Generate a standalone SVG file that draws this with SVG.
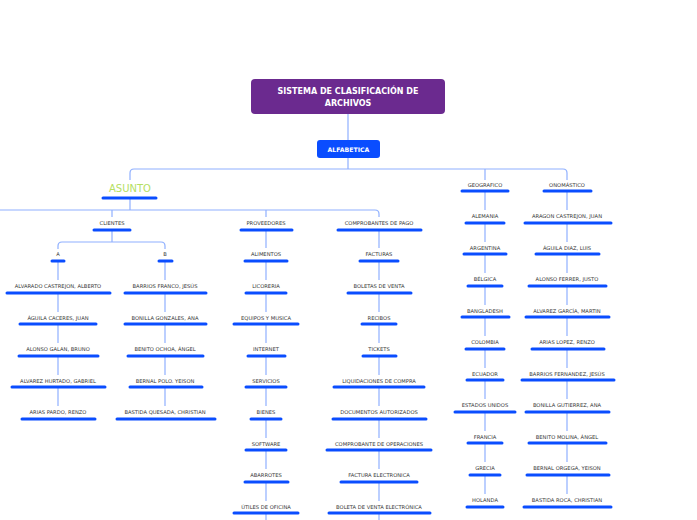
<svg xmlns="http://www.w3.org/2000/svg" width="697" height="520" viewBox="0 0 697 520">
<style>
text{font-family:"DejaVu Sans","Liberation Sans",sans-serif;font-size:5.2px;fill:#333;text-anchor:middle}
.b{stroke:#0a4dff;stroke-width:3;stroke-linecap:round}
.c{stroke:#8fb0ff;stroke-width:1.2;fill:none}
</style>
<rect width="697" height="520" fill="#fff"/>
<g id="connectors" class="c">
<path d="M348,114V140M348,158V169M130,180V173Q130,169 134,169H563Q567,169 567,173V180M485,169V180M130,199V210M0,210H375Q379,210 379,214V217M112,210V217M266,210V217M112,231V242M62,242H161Q165,242 165,246V249M62,242Q58,242 58,246V249"/>
<path d="M58,262V280M58,294V312M58,325V343M58,357V375M58,388V406M165,262V280M165,294V312M165,325V343M165,357V375M165,388V406"/>
<path d="M266,231V248M266,262V280M266,294V312M266,325V343M266,357V375M266,388V406M266,420V438M266,451V469M266,483V501M266,514V520M379,231V248M379,262V280M379,294V312M379,325V343M379,357V375M379,388V406M379,420V438M379,451V469M379,483V501M379,514V520"/>
<path d="M485,192V210M485,224V242M485,255V273M485,287V305M485,318V336M485,350V368M485,381V399M485,413V431M485,444V462M485,476V494M567,192V210M567,224V242M567,255V273M567,287V305M567,318V336M567,350V368M567,381V399M567,413V431M567,444V462M567,476V494"/>
</g>
<g id="root"><rect x="251" y="79" width="194" height="35" rx="4" fill="#6b2a8f"/><text x="348" y="94" style="font-size:8px;font-weight:bold;fill:#fff">SISTEMA DE CLASIFICACIÓN DE</text><text x="348" y="106" style="font-size:8px;font-weight:bold;fill:#fff">ARCHIVOS</text></g>
<g id="alfabetica"><rect x="317" y="140" width="63" height="18" rx="3" fill="#0a4dff"/><text x="348.5" y="151.5" style="font-size:6.2px;font-weight:bold;fill:#fff">ALFABETICA</text></g>
<g id="asunto"><text x="130" y="192" style="font-size:10px;fill:#b5e061">ASUNTO</text><line class="b" x1="103" y1="198" x2="156" y2="198"/></g>
<g id="clientes">
<text x="112" y="225">CLIENTES</text><line class="b" x1="94" y1="230" x2="130" y2="230"/>
<text x="58" y="256">A</text><line class="b" x1="52" y1="261" x2="64" y2="261"/>
<text x="165" y="256">B</text><line class="b" x1="159" y1="261" x2="172" y2="261"/>
<text x="58" y="288">ALVARADO CASTREJON, ALBERTO</text><line class="b" x1="7" y1="293" x2="110" y2="293"/>
<text x="58" y="320">ÁGUILA CACERES, JUAN</text><line class="b" x1="20" y1="324" x2="96" y2="324"/>
<text x="58" y="351">ALONSO GALAN, BRUNO</text><line class="b" x1="19" y1="356" x2="98" y2="356"/>
<text x="58" y="383">ALVAREZ HURTADO, GABRIEL</text><line class="b" x1="12" y1="387" x2="105" y2="387"/>
<text x="58" y="414">ARIAS PARDO, RENZO</text><line class="b" x1="22" y1="419" x2="95" y2="419"/>
<text x="165" y="288">BARRIOS FRANCO, JESÚS</text><line class="b" x1="125" y1="293" x2="206" y2="293"/>
<text x="165" y="320">BONILLA GONZALES, ANA</text><line class="b" x1="125" y1="324" x2="206" y2="324"/>
<text x="165" y="351">BENITO OCHOA, ÁNGEL</text><line class="b" x1="128" y1="356" x2="203" y2="356"/>
<text x="165" y="383">BERNAL POLO. YEISON</text><line class="b" x1="130" y1="387" x2="202" y2="387"/>
<text x="165" y="414">BASTIDA QUESADA, CHRISTIAN</text><line class="b" x1="117" y1="419" x2="215" y2="419"/>
</g>
<g id="proveedores">
<text x="266" y="225">PROVEEDORES</text><line class="b" x1="241" y1="230" x2="292" y2="230"/>
<text x="266" y="256">ALIMENTOS</text><line class="b" x1="245" y1="261" x2="287" y2="261"/>
<text x="266" y="288">LICORERIA</text><line class="b" x1="246" y1="293" x2="286" y2="293"/>
<text x="266" y="320">EQUIPOS Y MUSICA</text><line class="b" x1="234" y1="324" x2="298" y2="324"/>
<text x="266" y="351">INTERNET</text><line class="b" x1="248" y1="356" x2="285" y2="356"/>
<text x="266" y="383">SERVICIOS</text><line class="b" x1="246" y1="387" x2="286" y2="387"/>
<text x="266" y="414">BIENES</text><line class="b" x1="251" y1="419" x2="281" y2="419"/>
<text x="266" y="446">SOFTWARE</text><line class="b" x1="246" y1="450" x2="286" y2="450"/>
<text x="266" y="477">ABARROTES</text><line class="b" x1="245" y1="482" x2="288" y2="482"/>
<text x="266" y="509">ÚTILES DE OFICINA</text><line class="b" x1="234" y1="513" x2="298" y2="513"/>
</g>
<g id="comprobantes">
<text x="379" y="225">COMPROBANTES DE PAGO</text><line class="b" x1="338" y1="230" x2="421" y2="230"/>
<text x="379" y="256">FACTURAS</text><line class="b" x1="360" y1="261" x2="398" y2="261"/>
<text x="379" y="288">BOLETAS DE VENTA</text><line class="b" x1="348" y1="293" x2="411" y2="293"/>
<text x="379" y="320">RECIBOS</text><line class="b" x1="362" y1="324" x2="396" y2="324"/>
<text x="379" y="351">TICKETS</text><line class="b" x1="363" y1="356" x2="396" y2="356"/>
<text x="379" y="383">LIQUIDACIONES DE COMPRA</text><line class="b" x1="334" y1="387" x2="424" y2="387"/>
<text x="379" y="414">DOCUMENTOS AUTORIZADOS</text><line class="b" x1="333" y1="419" x2="426" y2="419"/>
<text x="379" y="446">COMPROBANTE DE OPERACIONES</text><line class="b" x1="327" y1="450" x2="431" y2="450"/>
<text x="379" y="477">FACTURA ELECTRONICA</text><line class="b" x1="341" y1="482" x2="417" y2="482"/>
<text x="379" y="509">BOLETA DE VENTA ELECTRÓNICA</text><line class="b" x1="329" y1="513" x2="430" y2="513"/>
</g>
<g id="geografico">
<text x="485" y="187">GEOGRAFICO</text><line class="b" x1="462" y1="191" x2="508" y2="191"/>
<text x="485" y="218">ALEMANIA</text><line class="b" x1="466" y1="223" x2="504" y2="223"/>
<text x="485" y="250">ARGENTINA</text><line class="b" x1="464" y1="254" x2="506" y2="254"/>
<text x="485" y="281">BÉLGICA</text><line class="b" x1="468" y1="286" x2="502" y2="286"/>
<text x="485" y="313">BANGLADESH</text><line class="b" x1="462" y1="317" x2="509" y2="317"/>
<text x="485" y="344">COLOMBIA</text><line class="b" x1="466" y1="349" x2="504" y2="349"/>
<text x="485" y="376">ECUADOR</text><line class="b" x1="467" y1="380" x2="503" y2="380"/>
<text x="485" y="407">ESTADOS UNIDOS</text><line class="b" x1="455" y1="412" x2="515" y2="412"/>
<text x="485" y="439">FRANCIA</text><line class="b" x1="468" y1="443" x2="502" y2="443"/>
<text x="485" y="470">GRECIA</text><line class="b" x1="470" y1="475" x2="500" y2="475"/>
<text x="485" y="502">HOLANDA</text><line class="b" x1="467" y1="507" x2="503" y2="507"/>
</g>
<g id="onomastico">
<text x="567" y="187">ONOMÁSTICO</text><line class="b" x1="544" y1="191" x2="591" y2="191"/>
<text x="567" y="218">ARAGON CASTREJON, JUAN</text><line class="b" x1="525" y1="223" x2="611" y2="223"/>
<text x="567" y="250">ÁGUILA DIAZ, LUIS</text><line class="b" x1="536" y1="254" x2="599" y2="254"/>
<text x="567" y="281">ALONSO FERRER, JUSTO</text><line class="b" x1="529" y1="286" x2="606" y2="286"/>
<text x="567" y="313">ALVAREZ GARCÍA, MARTIN</text><line class="b" x1="526" y1="317" x2="609" y2="317"/>
<text x="567" y="344">ARIAS LOPEZ, RENZO</text><line class="b" x1="532" y1="349" x2="604" y2="349"/>
<text x="567" y="376">BARRIOS FERNANDEZ, JESÚS</text><line class="b" x1="522" y1="380" x2="614" y2="380"/>
<text x="567" y="407">BONILLA GUTIERREZ, ANA</text><line class="b" x1="526" y1="412" x2="609" y2="412"/>
<text x="567" y="439">BENITO MOLINA, ÁNGEL</text><line class="b" x1="529" y1="443" x2="606" y2="443"/>
<text x="567" y="470">BERNAL ORGEGA, YEISON</text><line class="b" x1="527" y1="475" x2="609" y2="475"/>
<text x="567" y="502">BASTIDA ROCA, CHRISTIAN</text><line class="b" x1="524" y1="507" x2="611" y2="507"/>
</g>
</svg>
